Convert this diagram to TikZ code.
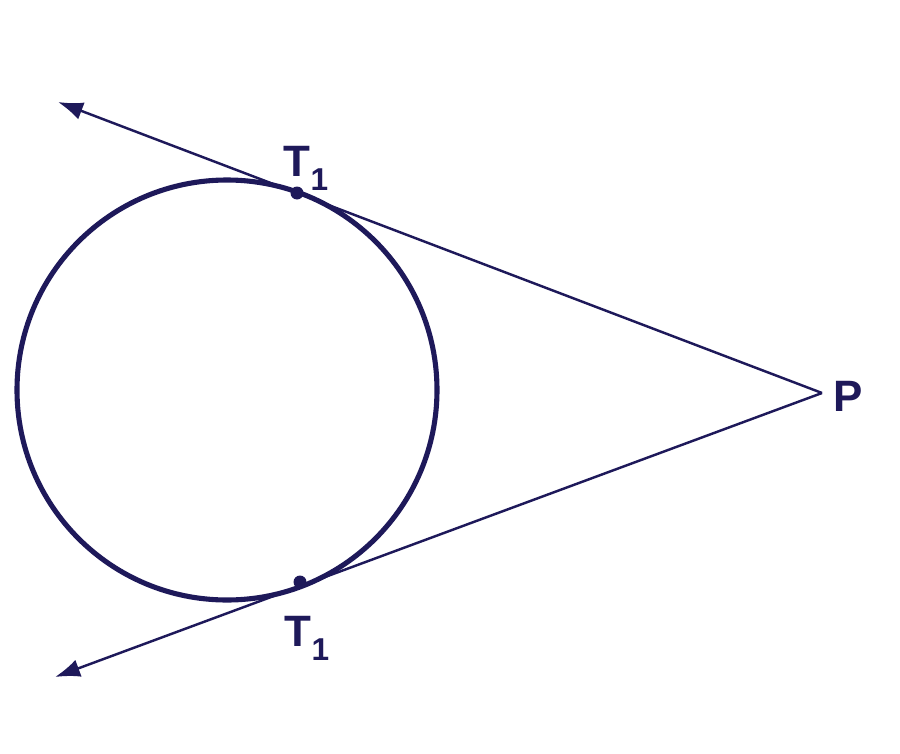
\documentclass[tikz,border=0pt]{standalone}
\usepackage{fontspec}
\setmainfont{Liberation Sans}
\usetikzlibrary{arrows.meta}
\tikzset{
    circ/.style = {line width=2.9pt, draw={rgb,255:red,30;green,25;blue,90}},
    tangent/.style = {line width=1.4pt, draw={rgb,255:red,30;green,25;blue,90}},
    touch/.style = {circle, fill={rgb,255:red,30;green,25;blue,90}, inner sep=0pt, minimum size=2.6mm},
    lbl/.style = {text={rgb,255:red,30;green,25;blue,90}, font=\fontsize{25}{27}\selectfont\bfseries}
}

\begin{document}
\begin{tikzpicture}[x=0.02cm,y=-0.02cm,>={Latex[length=5mm,width=3.6mm]}]
    \useasboundingbox (0,0) rectangle (900,754);
    \coordinate (O) at (227,390);
    \coordinate (P) at (822,393);
    \coordinate (a1) at (58,102);
    \coordinate (a2) at (55,677);
    \node[touch] (t1) at (297,193) {};
    \node[touch] (t2) at (300,582) {};

    \draw[circ] (O) circle (210);
    \draw[tangent,->] (P) -- (a1);
    \draw[tangent,->] (P) -- (a2);

    \node[lbl] (pl) at (848,396) {P};
    \node[lbl] (l1) at (306,168) {T\raisebox{-0.6ex}{\fontsize{18}{20}\selectfont 1}};
    \node[lbl] (l2) at (307,638) {T\raisebox{-0.6ex}{\fontsize{18}{20}\selectfont 1}};
\end{tikzpicture}
\end{document}
